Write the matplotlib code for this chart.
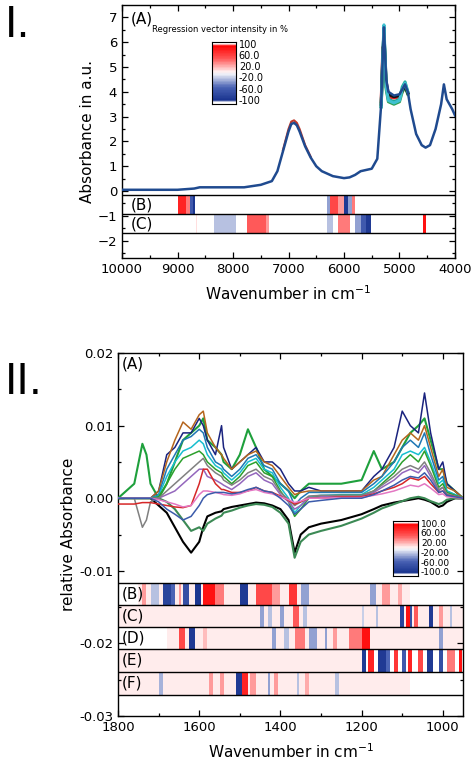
import numpy as np
import matplotlib
matplotlib.use("Agg")
import matplotlib.pyplot as plt
from matplotlib.colors import LinearSegmentedColormap

# ---------------- data: panel I ----------------
wn1 = [10000, 9000, 8700, 8600, 8200, 7800, 7500, 7300, 7200, 7100, 7000, 6950, 6900, 6850, 6800,
       6700, 6600, 6500, 6400, 6200, 6000, 5900, 5800, 5700, 5600, 5500, 5400, 5330, 5300, 5280,
       5260, 5240, 5200, 5100, 5000, 4950, 4900, 4850, 4800, 4700, 4600, 4530, 4450, 4350, 4250,
       4200, 4150, 4050, 4000]
abs_main = [0.05, 0.05, 0.1, 0.15, 0.15, 0.15, 0.25, 0.4, 0.8, 1.6, 2.4, 2.7, 2.75, 2.65, 2.4,
            1.8, 1.35, 1.0, 0.8, 0.6, 0.52, 0.55, 0.65, 0.8, 0.85, 0.9, 1.3, 3.5, 5.5, 6.6,
            5.5, 4.5, 4.0, 3.85, 3.9, 4.1, 4.3, 4.0, 3.3, 2.3, 1.85, 1.75, 1.85, 2.5, 3.5,
            4.3, 3.7, 3.3, 3.05]
# slightly higher spectrum around the 7000 band (wn1 index 9..16)
abs_7000_hi = [1.65, 2.5, 2.8, 2.85, 2.75, 2.5, 1.85, 1.38]
# variants in the 5330..4850 region (wn1 index 27..37)
var_colors = ['#e8262a', '#1fa89a', '#2e9e4f', '#111111', '#3fc0d0']
var_vals = [
    [3.6, 5.8, 5.2, 4.8, 4.2, 3.8, 3.75, 3.8, 4.0, 4.2, 3.95],
    [3.4, 5.4, 6.5, 5.3, 4.2, 3.7, 3.6, 3.7, 4.2, 4.4, 4.0],
    [3.4, 5.3, 6.3, 5.2, 4.1, 3.6, 3.5, 3.6, 4.0, 4.2, 3.9],
    [3.5, 5.6, 6.4, 5.4, 4.4, 3.9, 3.8, 3.85, 4.05, 4.25, 3.95],
    [3.4, 5.5, 6.7, 5.4, 4.2, 3.65, 3.55, 3.65, 4.1, 4.35, 4.0],
]

# stripes panel I: (start, end, value %)
stripesI_B = [(9000, 8850, 80), (8850, 8780, 40), (8780, 8720, -60), (8720, 8680, -95),
              (6300, 6250, -30), (6250, 6100, 60), (6100, 6000, 30), (6000, 5920, -90),
              (5920, 5850, -30), (5850, 5800, 40)]
stripesI_C = [(8660, 8640, 10), (8350, 7950, -20), (7750, 7400, 50), (7400, 7350, 30),
              (6300, 6200, -20), (6100, 5900, 40), (5800, 5700, -30), (5700, 5600, -60),
              (5600, 5520, -90), (4580, 4520, 90)]

# ---------------- data: panel II ----------------
wn2 = [1800, 1760, 1740, 1730, 1720, 1700, 1680, 1660, 1640, 1620, 1600, 1590, 1580, 1560, 1545,
       1540, 1520, 1500, 1480, 1460, 1440, 1420, 1400, 1380, 1365, 1350, 1330, 1300, 1250, 1200,
       1170, 1150, 1120, 1100, 1080, 1060, 1045, 1030, 1010, 1000, 990, 970, 950]
spectra2 = {
    '#000000': [0, 0, 0, 0, 0, -0.001, -0.002, -0.004, -0.006, -0.0075, -0.006, -0.004, -0.0025, -0.002, -0.0018,
                -0.0015, -0.0012, -0.001, -0.0008, -0.0006, -0.0007, -0.001, -0.0015, -0.003, -0.0075, -0.005, -0.004,
                -0.0035, -0.003, -0.0022, -0.0015, -0.001, -0.0006, -0.0004, -0.0002, 0, -0.0002, -0.0005, -0.0012,
                -0.001, -0.0005, 0, 0],
    '#3c8a55': [0, 0, 0, 0, 0, 0, -0.0005, -0.0015, -0.003, -0.0045, -0.004, -0.0045, -0.0035, -0.0028, -0.0024,
                -0.002, -0.0017, -0.0013, -0.001, -0.0008, -0.0009, -0.0012, -0.002, -0.0035, -0.0082, -0.006, -0.005,
                -0.0045, -0.0038, -0.0028, -0.002, -0.0014, -0.0008, -0.0004, 0, 0.0002, 0, -0.0004, -0.0008,
                -0.0006, -0.0002, 0, 0],
    '#1ea03c': [0, 0.002, 0.0075, 0.006, 0.002, 0, 0.002, 0.005, 0.008, 0.009, 0.010, 0.011, 0.008, 0.007, 0.006,
                0.005, 0.004, 0.006, 0.0095, 0.007, 0.004, 0.003, 0.002, 0.001, 0, 0.001, 0.002, 0.002, 0.002,
                0.0025, 0.0065, 0.004, 0.005, 0.007, 0.009, 0.010, 0.011, 0.008, 0.004, 0.004, 0.002, 0.001, 0],
    '#1a237e': [0, 0, 0, 0, 0, 0.001, 0.006, 0.007, 0.009, 0.009, 0.011, 0.010, 0.008, 0.006, 0.010,
                0.007, 0.004, 0.005, 0.006, 0.007, 0.005, 0.005, 0.004, 0.002, 0.001, 0.001, 0.0015, 0.001,
                0.001, 0.001, 0.003, 0.004, 0.007, 0.012, 0.010, 0.009, 0.0145, 0.009, 0.004, 0.005, 0.002, 0.001, 0],
    '#b5651d': [0, 0, 0, 0, 0, 0.001, 0.005, 0.008, 0.0105, 0.0095, 0.0115, 0.012, 0.009, 0.007, 0.006,
                0.0055, 0.004, 0.005, 0.006, 0.0065, 0.005, 0.0045, 0.003, 0.0015, 0.0005, 0.0008, 0.001, 0.001,
                0.001, 0.001, 0.0025, 0.003, 0.006, 0.008, 0.009, 0.008, 0.010, 0.007, 0.003, 0.004, 0.0015, 0.001, 0],
    '#1f77b4': [0, 0, 0, 0, 0, 0.0005, 0.004, 0.006, 0.008, 0.0085, 0.0095, 0.009, 0.007, 0.005, 0.0045,
                0.004, 0.003, 0.004, 0.0055, 0.006, 0.0045, 0.004, 0.002, 0.001, -0.001, 0, 0.0008, 0.0008,
                0.0008, 0.0008, 0.002, 0.003, 0.005, 0.007, 0.008, 0.007, 0.009, 0.006, 0.0025, 0.003, 0.001, 0.0005, 0],
    '#17becf': [0, 0, 0, 0, 0, 0.0003, 0.003, 0.005, 0.0065, 0.007, 0.008, 0.0075, 0.006, 0.0045, 0.004,
                0.0035, 0.0025, 0.0035, 0.005, 0.0055, 0.004, 0.0035, 0.0015, 0, -0.002, -0.001, 0.0002, 0.0004,
                0.0005, 0.0005, 0.0015, 0.0025, 0.004, 0.006, 0.0065, 0.006, 0.007, 0.005, 0.002, 0.0025, 0.001, 0.0005, 0],
    '#2ca02c': [0, 0, 0, 0, 0, 0.0002, 0.002, 0.004, 0.0055, 0.006, 0.0065, 0.006, 0.005, 0.004, 0.0035,
                0.003, 0.002, 0.003, 0.0045, 0.005, 0.0035, 0.003, 0.001, -0.0005, -0.0025, -0.0015, 0, 0.0003,
                0.0004, 0.0004, 0.001, 0.002, 0.0035, 0.005, 0.006, 0.005, 0.0065, 0.0045, 0.0015, 0.002, 0.0008, 0.0004, 0],
    '#9467bd': [0, 0, 0, 0, 0, 0, 0.0005, 0.001, 0.002, 0.003, 0.004, 0.004, 0.003, 0.0025, 0.002,
                0.0018, 0.0012, 0.002, 0.003, 0.0035, 0.0025, 0.002, 0.0005, -0.0005, -0.0015, -0.001, 0, 0.0002,
                0.0003, 0.0003, 0.0008, 0.0015, 0.0025, 0.0035, 0.004, 0.0035, 0.0045, 0.003, 0.001, 0.0015, 0.0005, 0.0002, 0],
    '#808080': [0, 0, -0.004, -0.003, -0.0005, 0, 0.001, 0.002, 0.003, 0.004, 0.005, 0.0055, 0.0045, 0.0035, 0.003,
                0.0025, 0.0018, 0.0025, 0.0035, 0.004, 0.003, 0.0025, 0.0008, -0.0002, -0.001, -0.0005, 0.0003, 0.0004,
                0.0004, 0.0004, 0.001, 0.0018, 0.003, 0.004, 0.0045, 0.004, 0.005, 0.0035, 0.0012, 0.0015, 0.0006, 0.0003, 0],
    '#d62728': [-0.0008, -0.0008, -0.0006, -0.0006, -0.0006, -0.0008, -0.001, -0.0012, -0.0013, -0.001, 0.002, 0.004, 0.004, 0.002, 0.0012,
                0.0012, 0.0008, 0.0008, 0.001, 0.0015, 0.001, 0.0008, 0.0003, -0.0003, -0.0008, -0.0005, 0, 0,
                0.0002, 0.0002, 0.0006, 0.001, 0.0015, 0.002, 0.0028, 0.0025, 0.003, 0.002, 0.0008, 0.001, 0.0004, 0.0002, 0],
    '#e377c2': [0, 0, 0, 0, 0, -0.0002, -0.0005, -0.0008, -0.0012, -0.001, 0.0005, 0.001, 0.001, 0.0008, 0.0006,
                0.0005, 0.0004, 0.0006, 0.001, 0.0012, 0.0008, 0.0006, 0.0002, -0.0002, -0.0006, -0.0004, 0, 0,
                0.0001, 0.0001, 0.0004, 0.0006, 0.001, 0.0014, 0.0018, 0.0016, 0.002, 0.0014, 0.0005, 0.0006, 0.0002, 0.0001, 0],
    '#3b5bab': [0, 0, 0, 0, 0, -0.0005, -0.0015, -0.0022, -0.003, -0.0025, -0.001, 0, 0.0005, 0.0008, 0.0008,
                0.0008, 0.0006, 0.0008, 0.0012, 0.0015, 0.001, 0.0008, 0, -0.001, -0.0022, -0.0015, -0.0005, -0.0003,
                0, 0, 0.0005, 0.001, 0.0018, 0.0025, 0.003, 0.0028, 0.0035, 0.0025, 0.0008, 0.001, 0.0004, 0.0002, 0],
}

rows2 = ['(B)', '(C)', '(D)', '(E)', '(F)']
bg2 = [(1750, 1080), (1800, 950), (1680, 950), (1800, 1200), (1800, 1080)]
stripes2 = [
    [(1740, 1730, 30), (1720, 1700, -20), (1690, 1670, -80), (1670, 1660, -50), (1650, 1645, 30),
     (1640, 1625, -70), (1610, 1595, -95), (1590, 1560, 90), (1560, 1540, 40), (1500, 1480, -90),
     (1460, 1420, 60), (1420, 1400, 30), (1380, 1360, 70), (1350, 1330, -30), (1180, 1165, -30),
     (1150, 1130, 30), (1110, 1100, 25)],
    [(1450, 1440, -30), (1430, 1420, -20), (1400, 1390, -30), (1370, 1355, 50), (1345, 1335, -20),
     (1200, 1195, -15), (1165, 1160, -20), (1105, 1095, -80), (1090, 1080, 90), (1080, 1075, -70),
     (1070, 1060, 50), (1035, 1025, -90), (1010, 1000, 30), (982, 978, -20)],
    [(1650, 1635, 60), (1625, 1610, -90), (1590, 1580, 20), (1420, 1410, -30), (1390, 1380, -20),
     (1365, 1340, 40), (1330, 1310, -30), (1290, 1285, -30), (1270, 1260, 30), (1230, 1200, 40),
     (1200, 1180, 90), (1010, 1000, -30)],
    [(1200, 1190, -90), (1185, 1170, 80), (1160, 1140, -90), (1140, 1130, -50), (1120, 1110, 70),
     (1100, 1090, -60), (1085, 1075, 80), (1060, 1050, 60), (1040, 1025, -90), (1010, 1000, -70),
     (990, 970, 40), (960, 952, 90)],
    [(1700, 1690, -25), (1575, 1565, 30), (1550, 1540, 30), (1510, 1495, -90), (1495, 1480, 80),
     (1475, 1460, 30), (1430, 1425, -30), (1415, 1405, 30), (1360, 1355, -20), (1340, 1330, 25),
     (1265, 1255, -20)],
]

cb1_labels = ['100', '60.0', '20.0', '-20.0', '-60.0', '-100']
cb2_labels = ['100.0', '60.00', '20.00', '-20.00', '-60.00', '-100.0']

# ---------------- drawing ----------------
cmap = LinearSegmentedColormap.from_list('rv', ['#16318c', '#4a63b5', '#ffffff', '#ff5a5a', '#ff0000'])
plt.rcParams['font.family'] = 'DejaVu Sans'

fig = plt.figure(figsize=(4.74, 7.69), dpi=100)

def style(ax):
    ax.tick_params(direction='in', which='both', top=True, right=True, labelsize=9.5, width=0.9)
    ax.tick_params(which='major', length=4)
    ax.tick_params(which='minor', length=2)
    for s in ax.spines.values():
        s.set_linewidth(1.0)

def stripes(ax, segs, y0, y1, bg=None):
    if bg is not None:
        ax.fill_between([bg[0], bg[1]], y0, y1, color=cmap(0.53), lw=0, zorder=1)
    for a, b, v in segs:
        ax.fill_between([a, b], y0, y1, color=cmap((v + 100) / 200), lw=0, zorder=2)

def inset_cbar(ax, rect, labels, fs):
    cax = ax.inset_axes(rect)
    levels = np.linspace(-100, 100, 21)
    vals = ((levels[:-1] + levels[1:]) / 2)[::-1]
    img = np.r_[[0.5], (vals + 100) / 200, [0.5]].reshape(-1, 1)
    cax.imshow(img, cmap=cmap, vmin=0, vmax=1, aspect='auto', extent=(0, 1, -0.06, 1.06), origin='upper')
    cax.set_xlim(0, 1); cax.set_ylim(-0.06, 1.06)
    cax.set_xticks([]); cax.set_yticks([])
    for s in cax.spines.values():
        s.set_linewidth(0.8)
    n = len(labels)
    for i, lab in enumerate(labels):
        cax.text(1.12, 1 - i / (n - 1), lab, transform=cax.transData,
                 fontsize=fs, va='center', ha='left')

# Panel I
ax1 = fig.add_axes([0.2574, 0.6645, 0.7025, 0.329])
ax1.set_xlim(10000, 4000)
ax1.set_ylim(-2.7, 7.5)
reg = slice(27, 38)
for c, v in zip(var_colors, var_vals):
    ax1.plot(wn1[reg], v, color=c, lw=2.2, zorder=3)
ax1.plot(wn1[9:17], abs_7000_hi, color='#c0392b', lw=1.5, zorder=3)
ax1.plot(wn1, abs_main, color='#1f4a8f', lw=1.8, zorder=4)
yb = [-0.17, -0.94, -1.7]
stripes(ax1, stripesI_B, yb[1], yb[0])
stripes(ax1, stripesI_C, yb[2], yb[1])
for y in yb:
    ax1.axhline(y, color='black', lw=1.0, zorder=5)
ax1.text(9840, -0.55, '(B)', fontsize=11, va='center', zorder=6)
ax1.text(9840, -1.32, '(C)', fontsize=11, va='center', zorder=6)
ax1.text(9840, 6.95, '(A)', fontsize=11, va='center')
ax1.set_yticks(range(-2, 8))
ax1.set_yticks(np.arange(-2.5, 7.5, 1), minor=True)
ax1.set_xticks(range(10000, 3999, -1000))
ax1.set_xticks(range(9500, 4000, -1000), minor=True)
ax1.set_ylabel('Absorbance in a.u.', fontsize=11, labelpad=2)
ax1.set_xlabel('Wavenumber in cm$^{-1}$', fontsize=11, labelpad=6)
style(ax1)
ax1.text(0.09, 0.895, 'Regression vector intensity in %', transform=ax1.transAxes, fontsize=6)
inset_cbar(ax1, [0.27, 0.609, 0.072, 0.245], cb1_labels, 7)

# Panel II
ax2 = fig.add_axes([0.249, 0.0689, 0.728, 0.472])
ax2.set_xlim(1800, 950)
ax2.set_ylim(-0.03, 0.02)
for c, v in spectra2.items():
    lw = 1.5 if c in ('#000000', '#3c8a55', '#1ea03c') else 1.1
    ax2.plot(wn2, v, color=c, lw=lw, zorder=3)
yb2 = [-0.01165, -0.0147, -0.0178, -0.0208, -0.0239, -0.0271]
for i in range(5):
    stripes(ax2, stripes2[i], yb2[i + 1], yb2[i], bg=bg2[i])
    ax2.text(1790, (yb2[i] + yb2[i + 1]) / 2, rows2[i], fontsize=11, va='center', zorder=6)
for y in yb2:
    ax2.axhline(y, color='black', lw=1.0, zorder=5)
ax2.text(1790, 0.0185, '(A)', fontsize=11, va='center')
ax2.set_yticks([-0.03, -0.02, -0.01, 0.0, 0.01, 0.02])
ax2.set_yticklabels(['-0.03', '-0.02', '-0.01', '0.00', '0.01', '0.02'])
ax2.set_yticks(np.arange(-0.025, 0.02, 0.005), minor=True)
ax2.set_xticks([1800, 1600, 1400, 1200, 1000])
ax2.set_xticks(range(1700, 949, -200), minor=True)
ax2.set_ylabel('relative Absorbance', fontsize=11, labelpad=2)
ax2.set_xlabel('Wavenumber in cm$^{-1}$', fontsize=11, labelpad=6)
style(ax2)
inset_cbar(ax2, [0.797, 0.386, 0.072, 0.151], cb2_labels, 6.5)

fig.text(0.01, 0.995, 'I.', fontsize=30, va='top', ha='left')
fig.text(0.01, 0.53, 'II.', fontsize=30, va='top', ha='left')

fig.savefig('out.png', dpi=100)
